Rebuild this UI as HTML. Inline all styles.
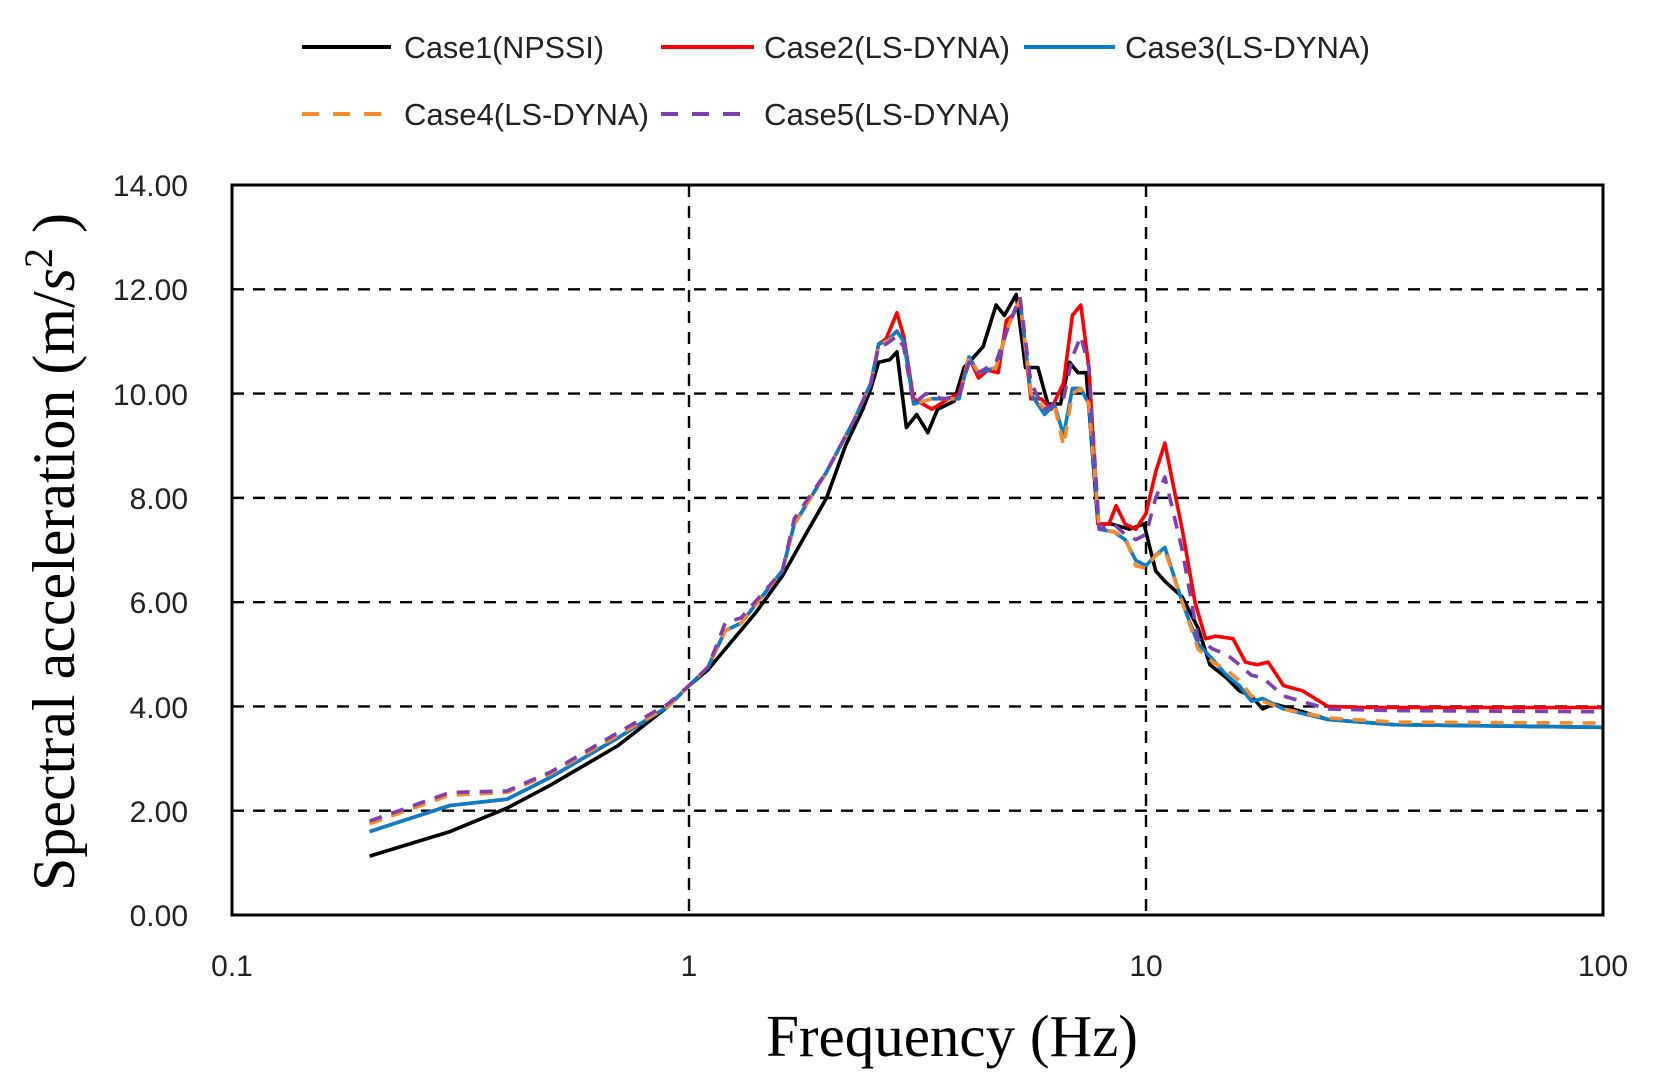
<!DOCTYPE html>
<html><head><meta charset="utf-8"><style>
html,body{margin:0;padding:0;background:#fff;}
svg{display:block;}
.t{font-family:"Liberation Sans Narrow","Liberation Sans",sans-serif;font-size:30px;fill:#222;}
.s{font-family:"Liberation Serif",serif;fill:#000;}
</style></head><body>
<svg id="c" width="1656" height="1092" viewBox="0 0 1656 1092" xmlns="http://www.w3.org/2000/svg">
<rect width="1656" height="1092" fill="#fff"/>
<g id="grid" stroke="#000" stroke-width="2.4" stroke-dasharray="12,9" fill="none"></g>
<g id="series" fill="none" stroke-width="3.6" stroke-linejoin="round"></g>
<rect x="232" y="185" width="1371" height="730" fill="none" stroke="#000" stroke-width="3"/>
<g class="t" text-anchor="end">
<text x="188" y="196">14.00</text><text x="188" y="300">12.00</text><text x="188" y="405">10.00</text>
<text x="188" y="509">8.00</text><text x="188" y="613">6.00</text><text x="188" y="718">4.00</text>
<text x="188" y="822">2.00</text><text x="188" y="926">0.00</text>
</g>
<g class="t" text-anchor="middle">
<text x="232" y="976">0.1</text><text x="689" y="976">1</text><text x="1146" y="976">10</text><text x="1603" y="976">100</text>
</g>
<text class="s" x="952" y="1056" font-size="59" text-anchor="middle">Frequency (Hz)</text>
<text class="s" transform="translate(74,552) rotate(-90)" font-size="60" text-anchor="middle">Spectral acceleration (m/<tspan font-style="italic">s</tspan><tspan dy="-22" font-size="40">2</tspan><tspan dy="22"> )</tspan></text>
<g stroke-width="4">
<line x1="302" y1="47" x2="391" y2="47" stroke="#000"/>
<line x1="661" y1="47" x2="754" y2="47" stroke="#ff0000"/>
<line x1="1024" y1="47" x2="1115" y2="47" stroke="#0a7dc9"/>
<line x1="302" y1="114" x2="391" y2="114" stroke="#f58a2a" stroke-dasharray="17,14"/>
<line x1="661" y1="114" x2="754" y2="114" stroke="#7f3fb0" stroke-dasharray="17,14"/>
</g>
<g class="t" style="font-size:31px">
<text x="404" y="58" textLength="200" lengthAdjust="spacingAndGlyphs">Case1(NPSSI)</text>
<text x="764" y="58" textLength="246" lengthAdjust="spacingAndGlyphs">Case2(LS-DYNA)</text>
<text x="1125" y="58" textLength="245" lengthAdjust="spacingAndGlyphs">Case3(LS-DYNA)</text>
<text x="404" y="125" textLength="245" lengthAdjust="spacingAndGlyphs">Case4(LS-DYNA)</text>
<text x="764" y="125" textLength="246" lengthAdjust="spacingAndGlyphs">Case5(LS-DYNA)</text>
</g>
</svg>
<script>
var NS="http://www.w3.org/2000/svg";
function X(f){return 232+457*(Math.log10(f)+1);}
function Y(v){return 915-52.14*v;}
var g=document.getElementById("grid");
function ln(x1,y1,x2,y2){var l=document.createElementNS(NS,"line");l.setAttribute("x1",x1);l.setAttribute("y1",y1);l.setAttribute("x2",x2);l.setAttribute("y2",y2);g.appendChild(l);}
for(var v=2;v<=12;v+=2)ln(232,Y(v),1603,Y(v));
ln(X(1),185,X(1),915);ln(X(10),185,X(10),915);
var low=[[0.2,1.6],[0.3,2.1],[0.4,2.22],[0.5,2.65],[0.7,3.4],[0.9,4.0],[1.0,4.4],[1.1,4.75],[1.2,5.45],[1.3,5.6],[1.6,6.6],[1.7,7.5],[2.0,8.5],[2.3,9.5],[2.5,10.2],[2.6,10.95]];
var black=[[0.2,1.13],[0.3,1.6],[0.4,2.05],[0.5,2.5],[0.7,3.25],[0.9,4.0],[1.0,4.4],[1.1,4.7],[1.2,5.1],[1.4,5.8],[1.6,6.5],[1.8,7.3],[2.0,8.0],[2.2,9.0],[2.4,9.7],[2.5,10.1],[2.6,10.6],[2.75,10.65],[2.85,10.8],[2.99,9.35],[3.15,9.6],[3.33,9.25],[3.5,9.7],[3.8,9.85],[4.0,10.5],[4.2,10.7],[4.4,10.9],[4.7,11.7],[4.9,11.5],[5.2,11.9],[5.45,10.5],[5.8,10.5],[6.1,9.8],[6.5,9.8],[6.8,10.6],[7.1,10.4],[7.4,10.4],[7.85,7.5],[8.4,7.5],[9.2,7.4],[9.9,7.5],[10.5,6.6],[11,6.4],[12,6.1],[13,5.5],[13.8,4.8],[15,4.55],[16,4.3],[17,4.2],[18,3.95],[19,4.05],[22,3.9],[25,3.75],[35,3.65],[100,3.6]];
var red=low.concat([[2.7,11.05],[2.85,11.55],[2.95,11.1],[3.1,9.9],[3.4,9.7],[3.7,9.9],[3.9,10.0],[4.1,10.7],[4.3,10.3],[4.5,10.45],[4.75,10.4],[4.95,11.4],[5.1,11.5],[5.3,11.75],[5.6,9.9],[5.9,9.9],[6.2,9.7],[6.6,10.2],[6.9,11.5],[7.2,11.7],[7.5,10.5],[7.85,7.5],[8.3,7.5],[8.6,7.85],[9.0,7.5],[9.5,7.4],[10.0,7.7],[10.5,8.5],[11.0,9.05],[11.5,8.2],[12.0,7.4],[12.8,6.0],[13.5,5.3],[14.2,5.35],[15.5,5.3],[16.5,4.85],[17.5,4.8],[18.5,4.85],[20,4.4],[22,4.3],[25,4.0],[30,3.98],[100,3.98]]);
var blue=low.concat([[2.7,11.0],[2.85,11.2],[2.95,11.0],[3.1,9.8],[3.4,9.9],[3.9,9.9],[4.1,10.7],[4.3,10.4],[4.7,10.5],[5.0,11.3],[5.3,11.8],[5.6,10.0],[6.0,9.6],[6.3,9.8],[6.6,9.2],[6.9,10.1],[7.2,10.1],[7.5,9.8],[7.9,7.4],[8.5,7.35],[9.0,7.2],[9.5,6.8],[10.0,6.7],[10.5,6.9],[11,7.05],[12,6.0],[13,5.2],[14,4.9],[15,4.6],[16,4.4],[17,4.1],[18,4.15],[20,3.95],[25,3.75],[35,3.65],[100,3.6]]);
var orange=[[0.2,1.75],[0.3,2.3],[0.4,2.35],[0.5,2.72],[0.7,3.45],[0.9,4.0]].concat(low.slice(6)).concat([[2.7,11.0],[2.85,11.1],[2.95,10.9],[3.1,9.8],[3.4,9.9],[3.9,9.9],[4.1,10.7],[4.3,10.4],[4.7,10.5],[5.0,11.3],[5.3,11.8],[5.6,10.0],[6.0,9.7],[6.3,9.8],[6.6,9.0],[6.9,10.0],[7.2,10.1],[7.5,9.8],[7.9,7.4],[8.5,7.35],[9.0,7.25],[9.5,6.7],[10.0,6.65],[10.5,6.9],[11,7.0],[12,6.0],[13,5.1],[14,4.85],[15,4.7],[16,4.5],[17,4.2],[18,4.1],[20,3.95],[25,3.78],[35,3.7],[100,3.68]]);
var purple=[[0.2,1.8],[0.3,2.35],[0.4,2.38],[0.5,2.75],[0.7,3.5],[0.9,4.05],[1.0,4.4],[1.1,4.75],[1.2,5.6],[1.3,5.7],[1.6,6.6],[1.7,7.6],[2.0,8.5],[2.3,9.5],[2.5,10.2],[2.6,10.9],[2.7,10.95],[2.85,11.1],[2.95,10.9],[3.1,9.8],[3.3,10.0],[3.6,9.9],[3.9,9.95],[4.1,10.6],[4.3,10.4],[4.7,10.6],[5.0,11.3],[5.3,11.85],[5.6,10.2],[6.0,9.7],[6.3,9.8],[6.6,9.9],[6.9,10.7],[7.2,11.1],[7.5,10.5],[7.9,7.4],[8.5,7.5],[9.0,7.3],[9.5,7.2],[10.0,7.3],[10.5,8.0],[11,8.4],[12,7.0],[13,5.3],[14,5.1],[15,5.0],[16,4.8],[17,4.6],[18,4.55],[20,4.2],[25,3.95],[35,3.92],[100,3.9]];
var sg=document.getElementById("series");
function add(d,col,dash){var p=document.createElementNS(NS,"path");var s="";d.forEach(function(q,i){s+=(i?"L":"M")+X(q[0]).toFixed(1)+","+Y(q[1]).toFixed(1);});p.setAttribute("d",s);p.setAttribute("stroke",col);if(dash)p.setAttribute("stroke-dasharray",dash);sg.appendChild(p);}
add(black,"#000");
add(red,"#ff0000");
add(blue,"#0a7dc9");
add(orange,"#f58a2a","13,10");
add(purple,"#7f3fb0","13,10");
</script>
</body></html>
